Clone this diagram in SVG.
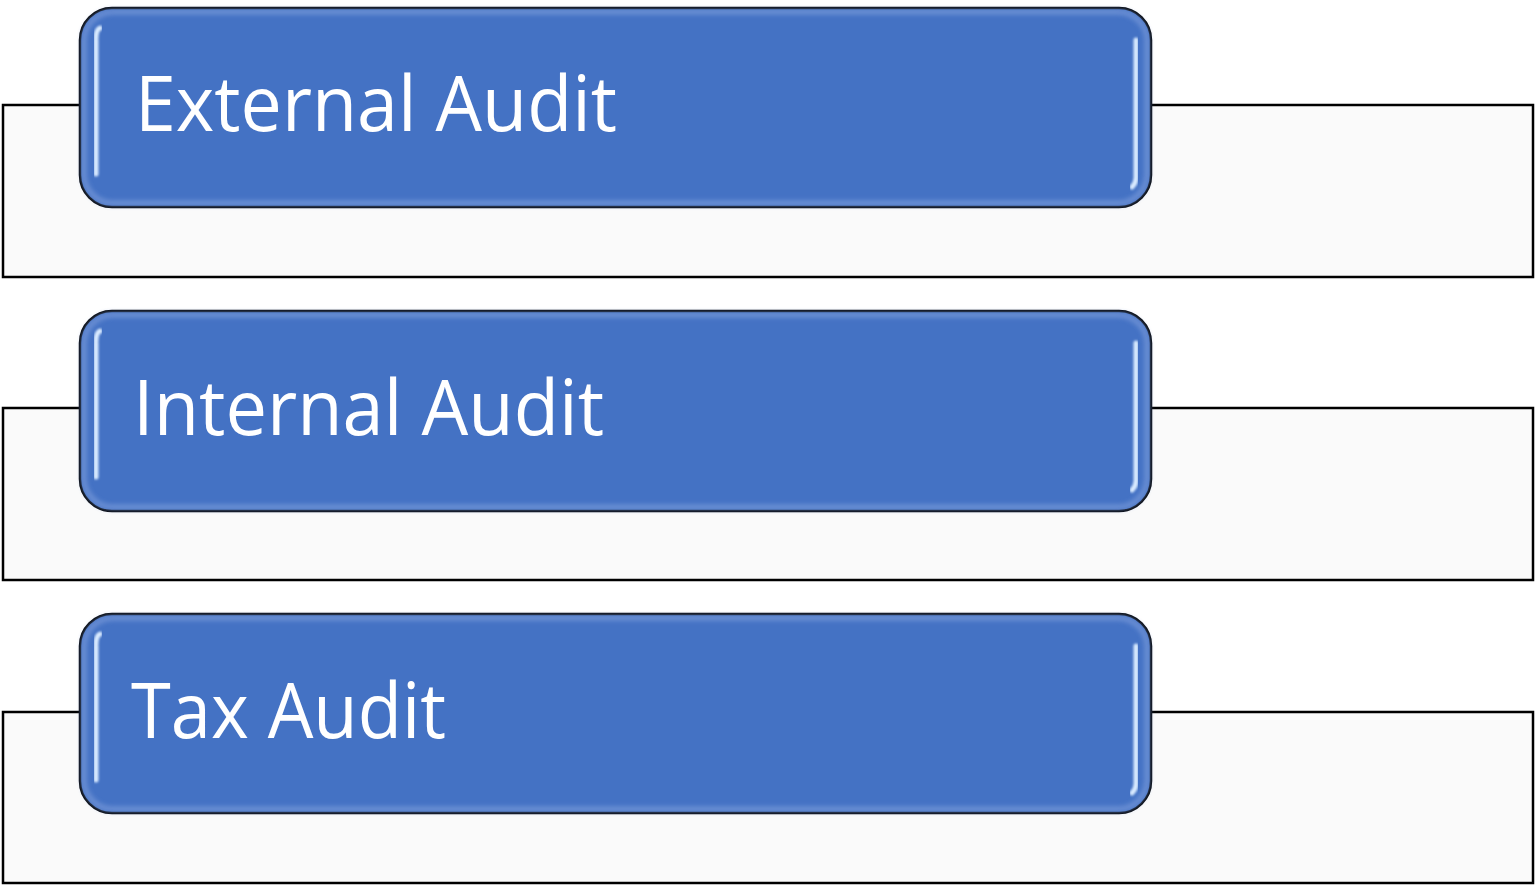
<svg xmlns="http://www.w3.org/2000/svg" width="1536" height="891" viewBox="0 0 1536 891">
<defs>
<filter id="soft" x="-5%" y="-5%" width="110%" height="110%"><feGaussianBlur stdDeviation="2"/></filter>
<filter id="glow" x="-50%" y="-5%" width="200%" height="110%"><feGaussianBlur stdDeviation="0.8"/></filter>
<style>
.back{fill:#fafafa;stroke:#000;stroke-width:2.5}
.box{fill:#4472c4;stroke:#000;stroke-width:2.5}
.inner{fill:none;stroke:#6f93d6;stroke-width:6;opacity:0.8;filter:url(#soft)}
.hl{stroke:#d8eaff;stroke-width:5;stroke-linecap:round;fill:none;filter:url(#glow)}
.lbl{font-family:"Open Sans","Noto Sans",sans-serif;font-size:76px;fill:#fff}
</style>
</defs>
<rect width="1536" height="891" fill="#fff"/>
<g id="node-external">
<rect class="back" x="3" y="105" width="1530" height="172"/>
<rect class="box" x="80" y="8" width="1071" height="199" rx="32"/>
<rect class="inner" x="84" y="12" width="1063" height="191" rx="29"/>
<path class="hl" d="M96 38 Q96 30 100 28 M96 40 V174"/>
<path class="hl" d="M1136 40 V178 Q1136 183 1132 187"/>
<text class="lbl" x="135" y="131" textLength="482" lengthAdjust="spacingAndGlyphs">External Audit</text>
</g>
<g id="node-internal">
<rect class="back" x="3" y="408" width="1530" height="172"/>
<rect class="box" x="80" y="311" width="1071" height="200" rx="32"/>
<rect class="inner" x="84" y="315" width="1063" height="192" rx="29"/>
<path class="hl" d="M96 341 Q96 333 100 331 M96 343 V477"/>
<path class="hl" d="M1136 343 V481 Q1136 486 1132 490"/>
<text class="lbl" x="133" y="435" textLength="471" lengthAdjust="spacingAndGlyphs">Internal Audit</text>
</g>
<g id="node-tax">
<rect class="back" x="3" y="712" width="1530" height="171"/>
<rect class="box" x="80" y="614" width="1071" height="199" rx="32"/>
<rect class="inner" x="84" y="618" width="1063" height="191" rx="29"/>
<path class="hl" d="M96 644 Q96 636 100 634 M96 646 V780"/>
<path class="hl" d="M1136 646 V784 Q1136 789 1132 793"/>
<text class="lbl" x="131" y="738" textLength="315" lengthAdjust="spacingAndGlyphs">Tax Audit</text>
</g>
<g id="connectors"></g>
</svg>
